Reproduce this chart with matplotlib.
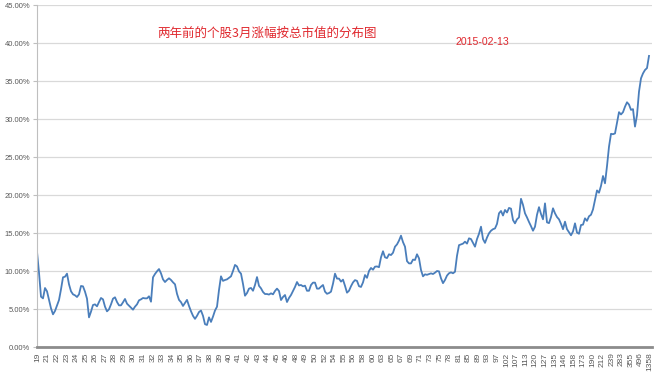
import matplotlib
matplotlib.use("Agg")
import matplotlib.pyplot as plt
import numpy as np
from matplotlib.ticker import FuncFormatter, MultipleLocator

# x-axis category labels (total market cap, shown every k-th stock)
tick_labels = ["19", "21", "22", "23", "24", "25", "26", "27", "28", "29", "30",
               "31", "32", "33", "34", "35", "36", "37", "38", "39", "40", "41",
               "42", "43", "44", "45", "46", "48", "49", "50", "52", "54", "55",
               "56", "58", "60", "63", "65", "67", "69", "71", "73", "75", "78",
               "81", "85", "89", "93", "97", "102", "107", "113", "120", "127",
               "135", "146", "158", "173", "190", "212", "239", "283", "355",
               "496", "1358"]

# March rise (%) sorted by market cap, in five stretches
rise_small = [12.54, 9.78, 6.62, 6.40, 7.76, 7.33, 6.18, 5.09, 4.30, 4.74,
              5.44, 6.18, 7.59, 9.17, 9.25, 9.65, 8.25, 7.33, 6.93, 6.80,
              6.58, 6.93, 8.03, 7.98, 7.28, 6.36, 3.9, 4.65, 5.53, 5.61,
              5.35, 5.92, 6.45, 6.27, 5.31, 4.69, 4.96, 5.61, 6.36, 6.54,
              5.92, 5.48, 5.48, 5.88, 6.32, 5.70, 5.44, 5.18, 4.91, 5.31,
              5.61, 6.14, 6.27, 6.45, 6.40, 6.40, 6.67, 5.96, 9.17, 9.61,
              9.96, 10.26, 9.69, 8.90, 8.55, 8.82, 9.04, 8.82, 8.51, 8.25]
rise_dip = [7.0, 6.2, 5.9, 5.4, 5.8, 6.2, 5.4, 4.7, 4.1, 3.7, 4.1, 4.6, 4.8,
            4.1, 3.0, 2.9, 3.9, 3.3, 4.0, 4.8, 5.3, 7.5, 9.3]
rise_mid = [8.7, 8.82, 8.9, 9.1, 9.3, 10.0, 10.8, 10.6, 9.95, 9.65,
            8.3, 6.75, 7.1, 7.68, 7.77, 7.4, 8.16, 9.2, 8.05, 7.72,
            7.24, 6.97, 6.97, 6.9, 7.06, 6.93, 7.37, 7.68, 7.37, 6.18,
            6.58, 6.84, 5.92, 6.45, 6.84, 7.37, 7.9, 8.55, 8.1, 8.16,
            7.98, 8.07, 7.4, 7.4, 8.16, 8.47, 8.47, 7.68, 7.68, 7.94,
            8.16, 7.28, 7.0, 7.1, 7.28, 8.33, 9.65, 9.0, 9.0, 8.6,
            8.86, 8.05, 7.15, 7.4]
rise_upper = [8.0, 8.5, 8.8, 8.7, 8.0, 7.9, 8.5, 9.47, 9.1, 10.0,
              10.4, 10.17, 10.57, 10.6, 10.5, 11.8, 12.6, 11.8, 11.7, 12.2,
              12.1, 12.4, 13.2, 13.5, 14.0, 14.65, 13.8, 13.2, 11.3, 11.0,
              11.0, 11.5, 11.45, 12.2, 11.67, 10.13, 9.3, 9.56, 9.5, 9.6,
              9.69, 9.6, 9.78, 10.0, 9.95, 9.04, 8.4, 8.82, 9.4, 9.7,
              9.82, 9.7, 9.9, 12.0, 13.4, 13.5, 13.6, 13.86, 13.6, 14.3,
              14.2, 13.7, 13.2, 14.2, 14.9, 15.83, 14.2, 13.7, 14.4, 14.96,
              15.3, 15.5, 15.6, 16.2, 17.59, 17.9, 17.3]
rise_large = [18.03, 17.7, 18.3, 18.2, 16.7, 16.27, 16.8, 17.05, 19.5, 18.7,
              17.59, 17.05, 16.45, 15.9, 15.3, 15.83, 17.4, 18.4, 17.5, 16.8,
              18.9, 16.4, 16.3, 17.1, 18.25, 17.59, 17.1, 16.8, 16.2, 15.5,
              16.49, 15.5, 15.1, 14.7, 15.2, 16.27, 15.05, 14.9, 16.05, 16.1,
              16.93, 16.6, 17.2, 17.4, 18.1, 19.34, 20.6, 20.3, 21.2, 22.5,
              21.54, 23.8, 26.36, 28.05, 28.0, 28.1, 29.5, 30.9, 30.6, 30.9,
              31.62, 32.2, 31.9, 31.2, 31.3, 29.0, 30.5, 33.6, 35.35, 36.0,
              36.45, 36.7, 38.3]

title_text = "两年前的个股3月涨幅按总市值的分布图"
date_text = "2015-02-13"

values = np.array(rise_small + rise_dip + rise_mid + rise_upper + rise_large)
n = len(values)
x = np.arange(n)

plt.rcParams["font.family"] = ["Liberation Sans", "DejaVu Sans"]

fig = plt.figure(figsize=(6.6, 3.74), dpi=100)
fig.patch.set_facecolor("white")
ax = fig.add_axes([37 / 660, 1 - 347 / 374, (652 - 37) / 660, (347 - 5) / 374])

ax.plot(x, values, color="#4A7EBB", lw=1.3, solid_joinstyle="round")

ax.set_ylim(0, 45)
ax.set_xlim(0, n + 0.5)
ax.yaxis.set_major_locator(MultipleLocator(5))
ax.yaxis.set_major_formatter(FuncFormatter(lambda v, p: f"{v:.2f}%"))
ax.yaxis.grid(True, color="#D9D9D9", lw=0.9)
ax.set_axisbelow(True)

tick_pos = np.linspace(0.5, n - 0.5, len(tick_labels))
ax.set_xticks(tick_pos)
ax.set_xticklabels(tick_labels, rotation=90, fontsize=6, color="#595959")
ax.tick_params(axis="x", length=0, pad=4)
ax.tick_params(axis="y", labelsize=5.5, labelcolor="#595959", length=3,
               color="#BFBFBF", width=0.8, pad=2)

for s in ("top", "right"):
    ax.spines[s].set_visible(False)
ax.spines["left"].set_color("#BFBFBF")
ax.spines["left"].set_linewidth(0.8)
ax.spines["bottom"].set_color("#8C8C8C")
ax.spines["bottom"].set_linewidth(2.0)

cjk = ["Noto Sans CJK SC", "DejaVu Sans"]
fig.text(157 / 660, 1 - 33 / 374, title_text, color="#E0282E", fontsize=9,
         family=cjk, ha="left", va="center")
fig.text(455 / 660, 1 - 42 / 374, date_text, color="#E0282E", fontsize=7.6,
         family=["Liberation Sans", "DejaVu Sans"], ha="left", va="center")

fig.savefig("out.png", dpi=100, facecolor="white")
